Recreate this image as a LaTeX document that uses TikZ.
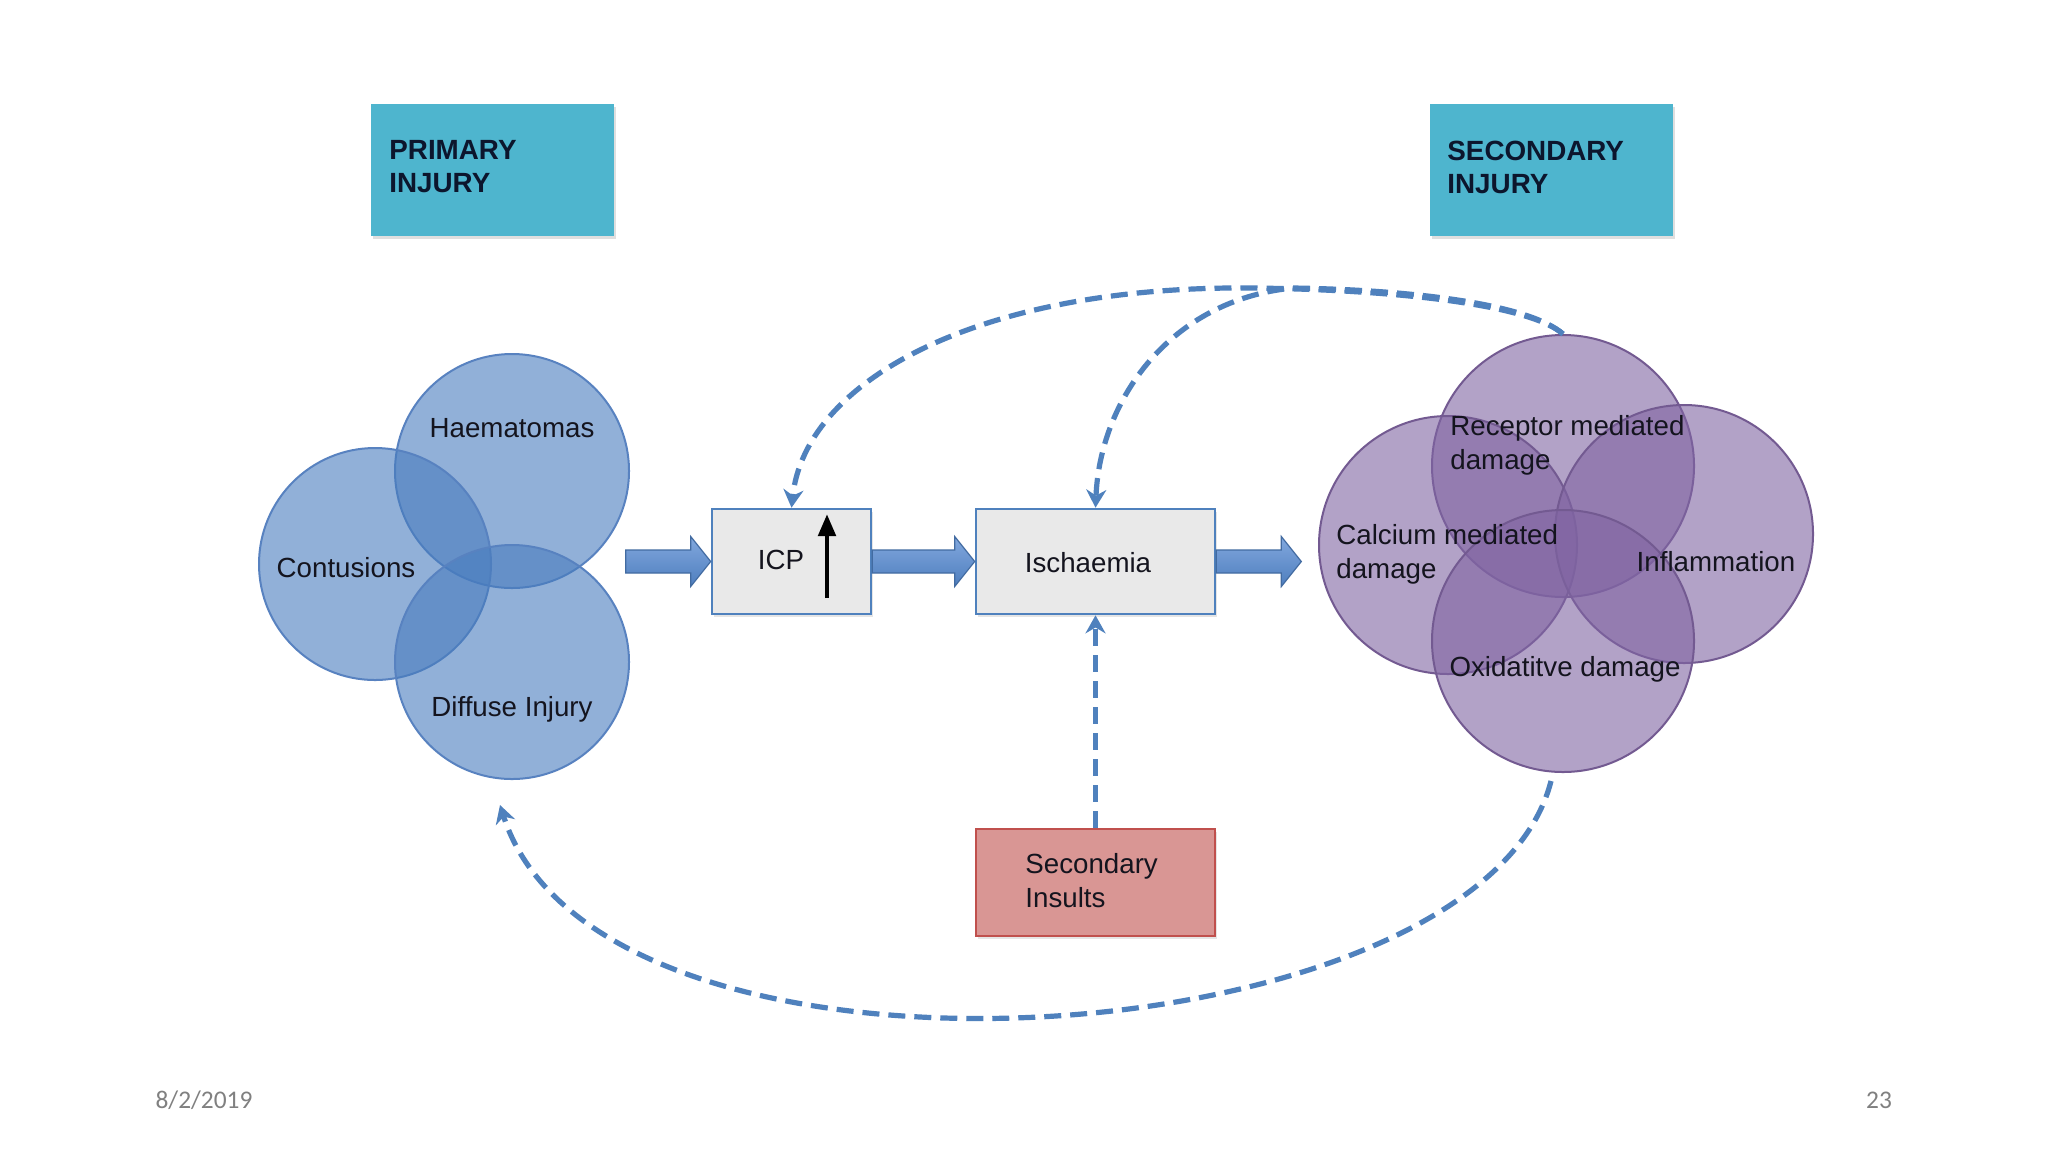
\documentclass[tikz,border=0pt]{standalone}
\usepackage{fontspec}
\setmainfont{Liberation Sans}
\newfontfamily\datefont{Carlito}
\usetikzlibrary{arrows.meta,calc,shadows}

\definecolor{hdr}{RGB}{78,181,206}
\definecolor{bluefill}{RGB}{72,124,190}
\definecolor{blueedge}{RGB}{88,130,192}
\definecolor{purfill}{RGB}{128,100,162}
\definecolor{puredge}{RGB}{115,90,145}
\definecolor{boxgray}{RGB}{233,233,233}
\definecolor{boxedge}{RGB}{79,129,189}
\definecolor{insfill}{RGB}{217,150,148}
\definecolor{insedge}{RGB}{192,80,77}
\definecolor{dashblue}{RGB}{79,129,189}
\definecolor{txt}{RGB}{20,20,30}
\definecolor{hdrtxt}{RGB}{12,22,45}
\definecolor{arrtop}{RGB}{130,168,222}
\definecolor{arrbot}{RGB}{78,126,190}
\definecolor{datecol}{RGB}{128,128,128}

\newcommand\fatarrow[2]{%
  \draw[fatarr] ($(#1)+(0,-11.5)$) -- ($(#2)+(-20,-11.5)$) -- ($(#2)+(-20,-25)$)
    -- (#2) -- ($(#2)+(-20,25)$) -- ($(#2)+(-20,11.5)$) -- ($(#1)+(0,11.5)$) -- cycle;}

\begin{document}
\begin{tikzpicture}[x=0.5pt,y=-0.5pt,
  lbl/.style={font=\fontsize{13.85}{17}\selectfont, text=txt, inner sep=0pt},
  hdrlbl/.style={font=\bfseries\fontsize{13.9}{16.5}\selectfont, text=hdrtxt, inner sep=0pt, align=left, anchor=west},
  hdrbox/.style={fill=hdr, draw=none, minimum width=121.5pt, minimum height=66pt, inner sep=0pt,
     drop shadow={shadow xshift=1pt, shadow yshift=-1.5pt, opacity=0.25}},
  bcirc/.style={circle, draw=blueedge, line width=1pt, fill=bluefill, fill opacity=0.6, draw opacity=1, inner sep=0pt, minimum size=#1},
  pcirc/.style={circle, draw=puredge, line width=1pt, fill=purfill, fill opacity=0.6, draw opacity=1, inner sep=0pt, minimum size=#1},
  graybox/.style={fill=boxgray, draw=boxedge, line width=1.3pt, inner sep=0pt,
     drop shadow={shadow xshift=1pt, shadow yshift=-1.5pt, opacity=0.2}},
  insbox/.style={fill=insfill, draw=insedge, line width=1.3pt, inner sep=0pt,
     drop shadow={shadow xshift=1pt, shadow yshift=-1.5pt, opacity=0.2}},
  fatarr/.style={draw=arrbot!85!black, line width=0.6pt, top color=arrtop, bottom color=arrbot},
  dasharr/.style={draw=dashblue, line width=2.6pt, dash pattern=on 8.5pt off 4.5pt, -{Stealth[length=9pt,width=10pt]}}
]
\fill[white] (0,0) rectangle (2048,1152);
\useasboundingbox (0,0) rectangle (2048,1152);

% header boxes
\node[hdrbox] (prim) at (492.5,170) {};
\node[hdrlbl] (primt) at (389,167) {PRIMARY\\INJURY};
\node[hdrbox] (sec) at (1551,170) {};
\node[hdrlbl] (sect) at (1447,167) {SECONDARY\\INJURY};

% blue circles
\node[bcirc=117pt] (cH) at (512,471) {};
\node[bcirc=116pt] (cC) at (375,564) {};
\node[bcirc=117pt] (cD) at (512,662) {};
\node[lbl] (tH) at (512,428) {Haematomas};
\node[lbl] (tC) at (346,568) {Contusions};
\node[lbl] (tD) at (512,709) {Diffuse Injury};

% purple circles
\node[pcirc=131pt] (pT) at (1563,466) {};
\node[pcirc=129pt] (pL) at (1448,545) {};
\node[pcirc=129pt] (pR) at (1684,534) {};
\node[pcirc=131pt] (pB) at (1563,641) {};
\node[lbl, anchor=west, align=left] (tRec) at (1450,445) {Receptor mediated\\damage};
\node[lbl, anchor=west, align=left] (tCal) at (1336,554) {Calcium mediated\\damage};
\node[lbl] (tInf) at (1716,562) {Inflammation};
\node[lbl] (tOx) at (1565,669) {Oxidatitve damage};

% process boxes
\node[graybox, minimum width=79.5pt, minimum height=52.5pt] (icp) at (791.5,561.5) {};
\node[lbl] (ticp) at (781,560) {ICP};
\coordinate (icpb) at (827,598);
\coordinate (icpt) at (827,514);
\draw[line width=2.4pt, -{Triangle[length=11pt,width=8.5pt]}] (icpb) -- (icpt);

\node[graybox, minimum width=119.5pt, minimum height=52.5pt] (isch) at (1095.5,561.5) {};
\node[lbl] (tisch) at (1088,563) {Ischaemia};

\node[insbox, minimum width=119.5pt, minimum height=53.5pt] (sins) at (1095.5,882.5) {};
\node[lbl, anchor=west, align=left] (tsins) at (1025,881) {Secondary\\Insults};

% fat arrows
\coordinate (a1s) at ($(icp.west)+(-85,0)$);
\coordinate (a3t) at ($(isch.east)+(85,0)$);
\fatarrow{a1s}{icp.west}
\fatarrow{icp.east}{isch.west}
\fatarrow{isch.east}{a3t}

% dashed connectors
\coordinate (amid) at (1254,288);
\coordinate (bmid) at (1293,288);
\draw[dasharr] (pT.north) .. controls (1530,305) and (1400,290) .. (amid)
   .. controls (980,285) and (805,380) .. (icp.north);
\draw[dasharr] (pT.north) .. controls (1530,305) and (1420,290) .. (bmid)
   .. controls (1170,300) and (1100,400) .. (isch.north);
\draw[dasharr] (sins.north) -- (isch.south);
\coordinate (dstart) at ($(pB.south)+(-12,8)$);
\coordinate (dtip) at ($(cD.south)+(-12,25)$);
\draw[dasharr] (dstart) .. controls (1480,1060) and (600,1120) .. (dtip);

% footer
\node[font=\datefont\fontsize{12.7}{15}\selectfont, text=datecol] (date) at (204,1100) {8/2/2019};
\node[font=\datefont\fontsize{12.7}{15}\selectfont, text=datecol] (page) at (1879,1100) {23};
\end{tikzpicture}
\end{document}
